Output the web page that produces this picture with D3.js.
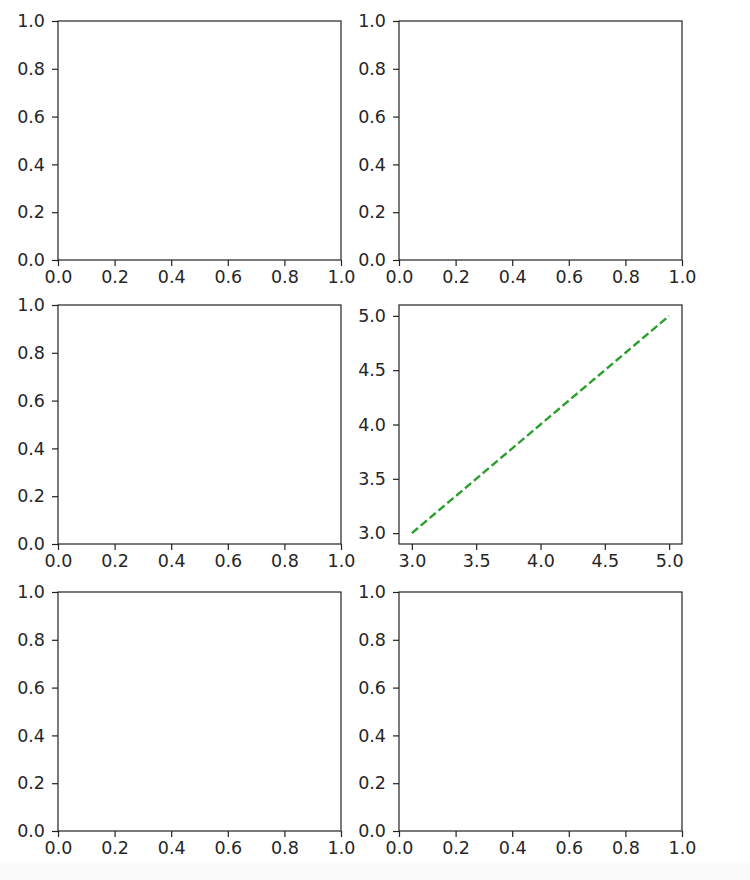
<!DOCTYPE html>
<html>
<head>
<meta charset="utf-8">
<script src="https://cdn.jsdelivr.net/npm/d3@7"></script>
<style>
  body { margin: 0; background: #fff; }
  svg { display: block; }
  .tick text { font-family: "DejaVu Sans", sans-serif; font-size: 17.5px; fill: #262626; }
  .tick line { stroke: #222; stroke-width: 1.2; }
</style>
</head>
<body>
<svg id="chart"></svg>
<script>
// data
const unitTicks = [0, 0.2, 0.4, 0.6, 0.8, 1.0];
const lineTicks = [3.0, 3.5, 4.0, 4.5, 5.0];
const lineX = [3, 4, 5];
const lineY = [3, 4, 5];

const settings = {
  width: 750,
  height: 880,
  colLefts: [58, 399],
  axWidth: 283,
  rowTops: [21, 305, 592],
  axHeight: 239,
  tickSize: 6,
  tickPad: 5,
  lineColor: "#2ca02c",
};

const svg = d3.select("#chart")
  .attr("width", settings.width)
  .attr("height", settings.height);

svg.append("rect")
  .attr("width", settings.width)
  .attr("height", settings.height)
  .attr("fill", "#fff");

svg.append("rect")
  .attr("y", 862)
  .attr("width", settings.width)
  .attr("height", settings.height - 862)
  .attr("fill", "#fbfbfb");

// panel 4 (row 1, col 1) holds the dashed line, domain padded 5% like matplotlib
const lineExtent = d3.extent(lineX.concat(lineY));
const pad = (lineExtent[1] - lineExtent[0]) * 0.05;
const lineDomain = [lineExtent[0] - pad, lineExtent[1] + pad];

const fmt = d3.format(".1f");

settings.rowTops.forEach((top, r) => {
  settings.colLefts.forEach((left, c) => {
    const hasLine = r === 1 && c === 1;
    const domain = hasLine ? lineDomain : [0, 1];
    const ticks = hasLine ? lineTicks : unitTicks;

    const x = d3.scaleLinear().domain(domain).range([0, settings.axWidth]);
    const y = d3.scaleLinear().domain(domain).range([settings.axHeight, 0]);

    const g = svg.append("g").attr("transform", `translate(${left},${top})`);

    if (hasLine) {
      const pts = lineX.map((v, i) => [v, lineY[i]]);
      g.append("path")
        .datum(pts)
        .attr("fill", "none")
        .attr("stroke", settings.lineColor)
        .attr("stroke-width", 2.4)
        .attr("stroke-dasharray", "8,3.6")
        .attr("d", d3.line().x(d => x(d[0])).y(d => y(d[1])));
    }

    g.append("g")
      .attr("transform", `translate(0,${settings.axHeight})`)
      .call(d3.axisBottom(x).tickValues(ticks).tickFormat(fmt)
        .tickSize(settings.tickSize).tickPadding(settings.tickPad))
      .call(a => a.select(".domain").remove());

    g.append("g")
      .call(d3.axisLeft(y).tickValues(ticks).tickFormat(fmt)
        .tickSize(settings.tickSize).tickPadding(settings.tickPad + 2))
      .call(a => a.select(".domain").remove());

    // spines
    g.append("rect")
      .attr("width", settings.axWidth)
      .attr("height", settings.axHeight)
      .attr("fill", "none")
      .attr("stroke", "#222")
      .attr("stroke-width", 1.2);
  });
});
</script>
</body>
</html>
